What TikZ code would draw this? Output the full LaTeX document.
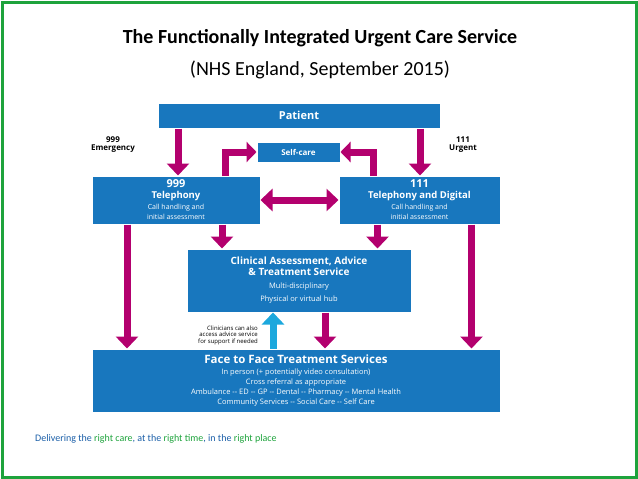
\documentclass[tikz,border=0pt]{standalone}
\usepackage{fontspec}
\setmainfont{Carlito}
\newfontfamily\dg{Open Sans}
\usetikzlibrary{arrows.meta,calc}
\definecolor{nhsblue}{HTML}{1877BE}
\definecolor{mag}{HTML}{B3006E}
\definecolor{cy}{HTML}{1CA8DD}
\definecolor{grn}{HTML}{1EA33C}
\definecolor{txtblue}{HTML}{1B5FA8}
\begin{document}
\begin{tikzpicture}[x=1pt,y=-1pt,
  box/.style={fill=nhsblue,draw=white,line width=1pt,text=white,align=center,inner sep=2pt,font=\dg},
  arr/.style={draw=mag,line width=7pt,-{Triangle[width=22pt,length=12pt]}},
  darr/.style={draw=mag,line width=7pt,{Triangle[width=22pt,length=12pt]}-{Triangle[width=22pt,length=12pt]}},
  carr/.style={draw=cy,line width=7pt,-{Triangle[width=22pt,length=12pt]}},
  lbl/.style={font=\dg\bfseries\fontsize{8}{8}\selectfont,align=center,inner sep=0pt}]
\useasboundingbox (0,0) rectangle (638,479);
\draw[grn,line width=3pt] (2,2) rectangle (636,477);
\node[font=\bfseries\fontsize{20}{22}\selectfont] (title) at (320,38) {The Functionally Integrated Urgent Care Service};
\node[font=\fontsize{20}{22}\selectfont] (sub) at (320,70) {(NHS England, September 2015)};
\node[box,minimum width=282pt,minimum height=25pt,font=\dg\bfseries\fontsize{11}{12}\selectfont] (pat) at (299,115.5) {Patient};
\node[box,minimum width=83pt,minimum height=20pt,font=\dg\bfseries\fontsize{8}{9}\selectfont] (self) at (298.5,152) {Self-care};
\node[box,minimum width=168pt,minimum height=48pt] (t999) at (176,200) {{\bfseries\fontsize{11}{11}\selectfont 999}\\[-1pt]{\bfseries\fontsize{9.5}{10}\selectfont Telephony}\\[-1pt]{\fontsize{7}{7.5}\selectfont Call handling and}\\[-2pt]{\fontsize{7}{7.5}\selectfont initial assessment}};
\node[box,minimum width=161pt,minimum height=48pt] (t111) at (419.5,200) {{\bfseries\fontsize{11}{11}\selectfont 111}\\[-1pt]{\bfseries\fontsize{9.5}{10}\selectfont Telephony and Digital}\\[-1pt]{\fontsize{7}{7.5}\selectfont Call handling and}\\[-2pt]{\fontsize{7}{7.5}\selectfont initial assessment}};
\node[box,minimum width=224pt,minimum height=63pt] (clin) at (299,280.5) {{\bfseries\fontsize{10}{11}\selectfont Clinical Assessment, Advice}\\[-1pt]{\bfseries\fontsize{10}{11}\selectfont \& Treatment Service}\\[1pt]{\fontsize{7.5}{8}\selectfont Multi-disciplinary}\\[1pt]{\fontsize{7.5}{8}\selectfont Physical or virtual hub}};
\node[box,minimum width=408pt,minimum height=63pt] (f2f) at (296,380.5) {{\bfseries\fontsize{11.5}{12}\selectfont Face to Face Treatment Services}\\[-1pt]{\fontsize{7.5}{8}\selectfont In person (+ potentially video consultation)}\\[-2pt]{\fontsize{7.5}{8}\selectfont Cross referral as appropriate}\\[-2pt]{\fontsize{7.5}{8}\selectfont Ambulance -- ED -- GP -- Dental -- Pharmacy -- Mental Health}\\[-2pt]{\fontsize{7.5}{8}\selectfont Community Services -- Social Care -- Self Care}};
\node[lbl] (l999) at (113,145) {999\\Emergency};
\node[lbl] (l111) at (463,145) {111\\Urgent};
\node[font=\dg\fontsize{6}{6.5}\selectfont,align=right,anchor=east,inner sep=0pt] (clinl) at (258,335) {Clinicians can also\\access advice service\\for support if needed};
\node[anchor=west,inner sep=0pt,font=\fontsize{10}{12}\selectfont] (foot) at (35,439) {\textcolor{txtblue}{Delivering the }\textcolor{grn}{right care}\textcolor{txtblue}{, at the }\textcolor{grn}{right time}\textcolor{txtblue}{, in the }\textcolor{grn}{right place}};
% arrows
\draw[arr] ([xshift=2pt]t999.north |- pat.south) -- ([xshift=2pt]t999.north);
\draw[arr] ([xshift=0.5pt]t111.north |- pat.south) -- ([xshift=0.5pt]t111.north);
\draw[draw=mag,line width=7pt,-{Triangle[width=20pt,length=10pt]}] ([xshift=49pt]t999.north) |- (self.west);
\draw[draw=mag,line width=7pt,-{Triangle[width=20pt,length=10pt]}] ([xshift=-46pt]t111.north) |- (self.east);
\draw[darr] (t999.east) -- (t111.west);
\draw[arr] ([xshift=46pt]t999.south) -- ([xshift=46pt]t999.south |- clin.north);
\draw[arr] ([xshift=-42pt]t111.south) -- ([xshift=-42pt]t111.south |- clin.north);
\draw[arr] ([xshift=-49pt]t999.south) -- ([xshift=-49pt]t999.south |- f2f.north);
\draw[arr] ([xshift=52pt]t111.south) -- ([xshift=52pt]t111.south |- f2f.north);
\draw[arr] ([xshift=26pt]clin.south) -- ([xshift=26pt]clin.south |- f2f.north);
\draw[carr] ([xshift=-26pt]clin.south |- f2f.north) -- ([xshift=-26pt]clin.south);
\end{tikzpicture}
\end{document}
